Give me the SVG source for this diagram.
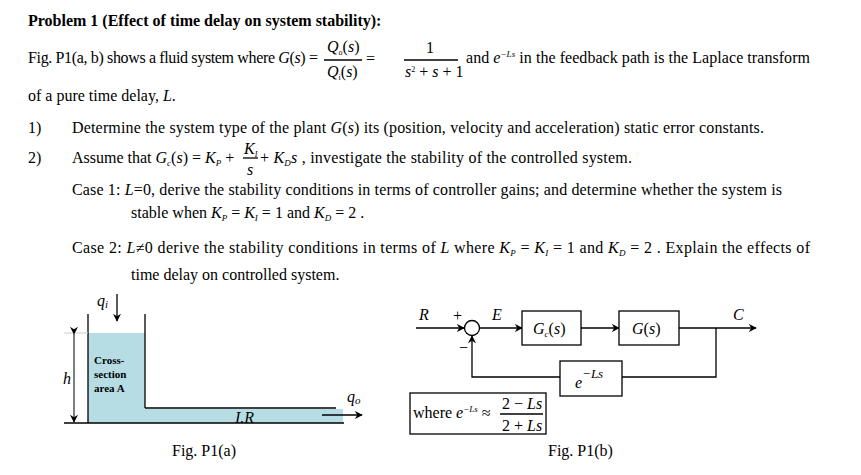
<svg xmlns="http://www.w3.org/2000/svg" width="861" height="475" viewBox="0 0 861 475" font-family="'Liberation Serif','Times New Roman','DejaVu Serif',serif">
<defs>
<style>
text{font-family:"Liberation Serif","Times New Roman","DejaVu Serif",serif;font-size:16px;fill:#000}
.i{font-style:italic}
.sm{font-size:11px}
.ln{stroke:#000;stroke-width:1.3;fill:none}
.bx{stroke:#000;stroke-width:1.3;fill:#fff}
</style>
<marker id="ah" viewBox="0 0 10 10" refX="9" refY="5" markerWidth="8" markerHeight="8" orient="auto" markerUnits="userSpaceOnUse"><path d="M0,0 L10,5 L0,10 L3,5z" fill="#000"/></marker>
</defs>
<rect width="861" height="475" fill="#fff"/>
<text x="28" y="26" font-weight="bold">Problem 1 (Effect of time delay on system stability):</text>
<text x="28" y="63" textLength="290">Fig. P1(a, b) shows a fluid system where <tspan class="i">G</tspan>(<tspan class="i">s</tspan>) =</text>
<text x="327" y="52" font-size="14"><tspan class="i">Q</tspan><tspan font-size="8" dy="3">o</tspan><tspan dy="-3">(</tspan><tspan class="i">s</tspan>)</text>
<line x1="324" y1="60" x2="362" y2="60" class="ln" stroke-width="1"/>
<text x="327" y="77" font-size="14"><tspan class="i">Q</tspan><tspan font-size="8" dy="3">i</tspan><tspan dy="-3">(</tspan><tspan class="i">s</tspan>)</text>
<text x="366" y="64">=</text>
<text x="426" y="53" font-size="13">1</text>
<line x1="404" y1="60" x2="458" y2="60" class="ln" stroke-width="1"/>
<text x="405" y="77" font-size="13"><tspan class="i">s</tspan><tspan font-size="8" dy="-5">2</tspan><tspan dy="5"> + </tspan><tspan class="i">s</tspan> + 1</text>
<text x="466" y="63" textLength="344">and <tspan class="i">e</tspan><tspan font-size="9" dy="-6" class="i">−Ls</tspan><tspan dy="6"> in the feedback path is the Laplace transform</tspan></text>
<text x="28" y="101">of a pure time delay, <tspan class="i">L</tspan>.</text>
<text x="28" y="133">1)</text>
<text x="72" y="133" textLength="692">Determine the system type of the plant <tspan class="i">G</tspan>(<tspan class="i">s</tspan>) its (position, velocity and acceleration) static error constants.</text>
<text x="28" y="163">2)</text>
<text x="72" y="163">Assume that <tspan class="i">G</tspan><tspan font-size="9" dy="3" class="i">c</tspan><tspan dy="-3">(</tspan><tspan class="i">s</tspan>) = <tspan class="i">K</tspan><tspan font-size="9" dy="3" class="i">P</tspan><tspan dy="-3"> +</tspan></text>
<text x="244" y="154" font-size="14" class="i">K<tspan font-size="8" dy="3">I</tspan></text>
<line x1="243" y1="158" x2="258" y2="158" class="ln" stroke-width="1"/>
<text x="247" y="175" font-size="13" class="i">s</text>
<text x="260" y="163" textLength="372">+ <tspan class="i">K</tspan><tspan font-size="9" dy="3" class="i">D</tspan><tspan dy="-3" class="i">s</tspan> , investigate the stability of the controlled system.</text>
<text x="72" y="195" textLength="710">Case 1:  <tspan class="i">L</tspan>=0, derive the stability conditions in terms of controller gains; and determine whether the system is</text>
<text x="131" y="218">stable when  <tspan class="i">K</tspan><tspan font-size="9" dy="3" class="i">P</tspan><tspan dy="-3"> = </tspan><tspan class="i">K</tspan><tspan font-size="9" dy="3" class="i">I</tspan><tspan dy="-3"> = 1 and </tspan><tspan class="i">K</tspan><tspan font-size="9" dy="3" class="i">D</tspan><tspan dy="-3"> = 2 .</tspan></text>
<text x="72" y="253" textLength="738">Case 2:  <tspan class="i">L</tspan>≠0 derive the stability conditions in terms of <tspan class="i">L</tspan> where <tspan class="i">K</tspan><tspan font-size="9" dy="3" class="i">P</tspan><tspan dy="-3"> = </tspan><tspan class="i">K</tspan><tspan font-size="9" dy="3" class="i">I</tspan><tspan dy="-3"> = 1  and  </tspan><tspan class="i">K</tspan><tspan font-size="9" dy="3" class="i">D</tspan><tspan dy="-3"> = 2 .  Explain the effects of</tspan></text>
<text x="131" y="280">time delay on controlled system.</text>

<g id="tank">
<rect x="88" y="333" width="57" height="90" fill="#b6dde4"/>
<rect x="145" y="409" width="198" height="14" fill="#b6dde4"/>
<line x1="88" y1="314" x2="88" y2="423" class="ln" stroke-width="1.6"/>
<line x1="145" y1="314" x2="145" y2="408" class="ln" stroke="#555"/>
<line x1="145" y1="408" x2="336" y2="408" class="ln" stroke="#555"/>
<line x1="64" y1="423" x2="344" y2="423" class="ln" stroke-width="1.6"/>
<line x1="64" y1="333" x2="88" y2="333" stroke="#ccc" stroke-width="1"/>
<line x1="74" y1="334" x2="74" y2="422" stroke="#000" stroke-width="1" marker-start="url(#ah)" marker-end="url(#ah)"/>
<text x="63" y="384" class="i" font-size="20">h</text>
<text x="94" y="364" class="sm" font-weight="bold">Cross-</text>
<text x="94" y="378" class="sm" font-weight="bold">section</text>
<text x="94" y="392" class="sm" font-weight="bold">area A</text>
<text x="97" y="306" class="i" font-size="18">q<tspan font-size="11" dy="2">i</tspan></text>
<line x1="117" y1="294" x2="117" y2="321" class="ln" stroke-width="1.5" marker-end="url(#ah)"/>
<text x="347" y="402" class="i" font-size="18">q<tspan font-size="11" dy="2">o</tspan></text>
<line x1="322" y1="415" x2="362" y2="415" class="ln" stroke-width="1.5" marker-end="url(#ah)"/>
<text x="235" y="423" class="i" font-size="15">I.R</text>
<text x="172" y="456">Fig. P1(a)</text>
</g>

<g id="connectors">
<line x1="416" y1="328" x2="464" y2="328" class="ln" marker-end="url(#ah)"/>
<line x1="480" y1="328" x2="522" y2="328" class="ln" marker-end="url(#ah)"/>
<line x1="581" y1="328" x2="619" y2="328" class="ln" marker-end="url(#ah)"/>
<line x1="679" y1="328" x2="756" y2="328" class="ln" marker-end="url(#ah)"/>
<polyline points="716,328 716,377 622,377" class="ln"/>
<polyline points="560,377 472,377 472,336" class="ln" marker-end="url(#ah)"/>
</g>
<g id="sum"><circle cx="472" cy="328" r="7.5" class="bx"/><text x="453" y="321" font-size="12">+</text><text x="459" y="353" font-size="17">−</text></g>
<text x="419" y="320" class="i" font-size="17">R</text>
<text x="492" y="320" class="i" font-size="17">E</text>
<text x="733" y="320" class="i" font-size="17">C</text>
<g id="gc"><rect x="522" y="311" width="59" height="34" class="bx"/><text x="533" y="334" font-size="17"><tspan class="i">G</tspan><tspan font-size="9" dy="3" class="i">c</tspan><tspan dy="-3">(</tspan><tspan class="i">s</tspan>)</text></g>
<g id="g"><rect x="619" y="311" width="60" height="34" class="bx"/><text x="632" y="334" font-size="17"><tspan class="i">G</tspan>(<tspan class="i">s</tspan>)</text></g>
<g id="delay"><rect x="560" y="361" width="62" height="35" class="bx"/><text x="575" y="388" font-size="22" class="i">e<tspan font-size="13" dy="-10">−Ls</tspan></text></g>
<g id="where"><rect x="410" y="393" width="136" height="41" class="bx"/>
<text x="413" y="418">where <tspan class="i">e</tspan><tspan font-size="9" dy="-6" class="i">−Ls</tspan><tspan dy="6"> ≈</tspan></text>
<text x="502" y="409" font-size="15">2 − <tspan class="i">Ls</tspan></text>
<line x1="500" y1="414" x2="543" y2="414" class="ln" stroke-width="1"/>
<text x="502" y="431" font-size="15">2 + <tspan class="i">Ls</tspan></text></g>
<text x="548" y="456">Fig. P1(b)</text>
</svg>
